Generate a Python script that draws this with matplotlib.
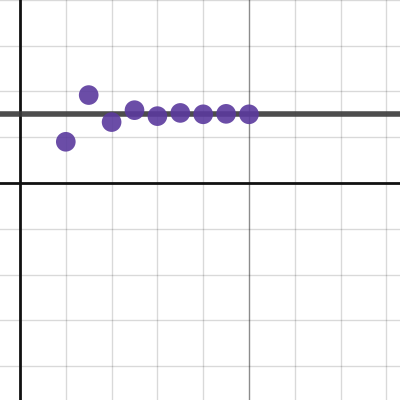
import numpy as np
import matplotlib.pyplot as plt

# sequence points
xs = [1, 1.5, 2, 2.5, 3, 3.5, 4, 4.5, 5]
ys = [0.90, 1.92, 1.33, 1.59, 1.46, 1.53, 1.50, 1.51, 1.50]
limit = 1.5

unit = 45.8
xmin, xmax = -20 / unit, 380 / unit
ymin, ymax = -217 / unit, 183 / unit

fig = plt.figure(figsize=(4, 4), dpi=100)
ax = fig.add_axes([0, 0, 1, 1])
ax.set_xlim(xmin, xmax)
ax.set_ylim(ymin, ymax)
ax.axis('off')

for gx in range(0, 9):
    ax.axvline(gx, color='#000000', alpha=0.45 if gx == 5 else 0.15, lw=1, zorder=0)
for gy in range(-4, 5):
    ax.axhline(gy, color='#000000', alpha=0.15, lw=1, zorder=0)
ax.axvline(0, color='#111111', lw=2, zorder=1)
ax.axhline(0, color='#111111', lw=2, zorder=1)

ax.axhline(limit, color='#3a3a3a', lw=4, alpha=0.9, zorder=2)
ax.scatter(xs, ys, s=200, color='#5b3a9e', alpha=0.9, edgecolors='none', zorder=3)

fig.savefig('out.png', dpi=100)
